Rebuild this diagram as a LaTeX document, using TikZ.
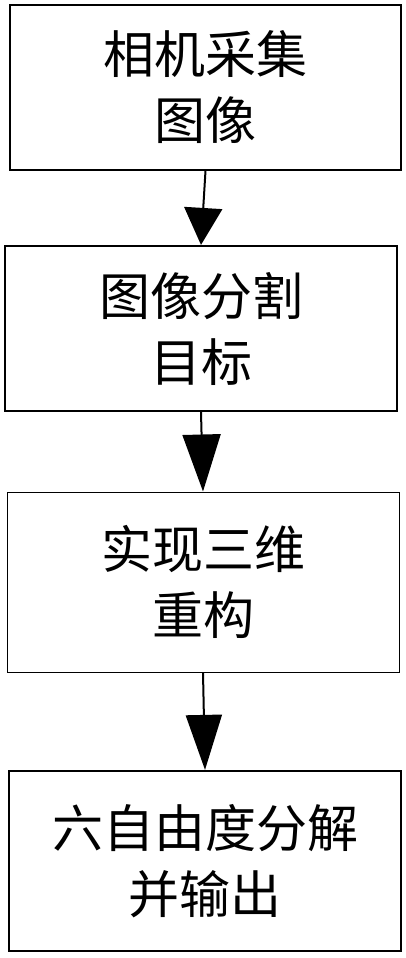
\documentclass[tikz,border=0pt]{standalone}
\usepackage{fontspec}
\setmainfont{Noto Sans CJK SC}
\usetikzlibrary{arrows.meta}
\tikzset{
  stepbox/.style={draw=black, inner sep=0pt, minimum width=392pt, align=center,
    font=\fontsize{51pt}{66pt}\selectfont},
  flow/.style={line width=2pt, draw=black},
}
\begin{document}
\begin{tikzpicture}[x=1pt,y=-1pt]
\useasboundingbox[fill=white] (0,0) rectangle (406,958);
\node[stepbox, line width=1.6pt, minimum width=391pt, minimum height=165pt] (b1) at (205.5,87.5) {相机采集\\图像};
\node[stepbox, line width=2.2pt, minimum height=165pt] (b2) at (201,328.5) {图像分割\\目标};
\node[stepbox, line width=1pt, minimum height=180pt] (b3) at (203,582) {实现三维\\重构};
\node[stepbox, line width=2.2pt, minimum height=180pt] (b4) at (205,861) {六自由度分解\\并输出};
\draw[flow, -{Triangle[length=37pt,width=38pt]}] (b1.south) -- (b2.north);
\draw[flow, -{Triangle[length=57pt,width=38pt]}] (b2.south) -- (b3.north);
\draw[flow, -{Triangle[length=55pt,width=36pt]}] (b3.south) -- (b4.north);
\end{tikzpicture}
\end{document}
